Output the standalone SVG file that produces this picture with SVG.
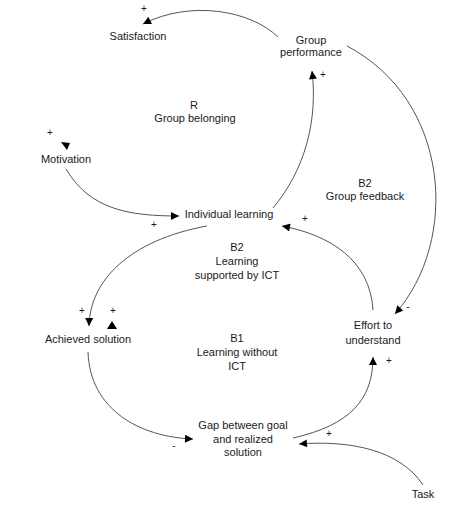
<svg xmlns="http://www.w3.org/2000/svg" width="474" height="505" viewBox="0 0 474 505">
<style>
text{font-family:"Liberation Sans",Arial,sans-serif;font-size:11px;fill:#1a1a1a;text-anchor:middle}
#polarity text{font-size:10px}
.c{fill:none;stroke:#555;stroke-width:1;marker-end:url(#ah)}
.ah{fill:#000}
</style>
<defs>
<marker id="ah" viewBox="0 0 10 10" refX="10" refY="5" markerWidth="9" markerHeight="8" markerUnits="userSpaceOnUse" orient="auto"><path d="M0,0 L10,5 L0,10 z" fill="#000"/></marker>
</defs>
<rect width="474" height="505" fill="#fff"/>
<g id="connectors">
<path class="c" d="M278,37 C250,10 190,0 143,24"/>
<path class="c" d="M347,46 C450,100 460,240 395,314"/>
<path class="c" d="M273,208 C305,170 318,120 312,71"/>
<path class="c" d="M66,169 C90,210 130,216 179,216"/>
<path class="c" d="M207,226 C130,240 90,280 89,326"/>
<path class="c" d="M373,310 C370,260 330,235 282,226"/>
<path class="c" d="M88,352 C90,410 140,437 193,439"/>
<path class="c" d="M293,438 C350,425 373,400 373,357"/>
<path class="c" d="M423,485 C400,450 350,440 299,444"/>
<polygon class="ah" points="61,142 70,143 67,150"/>
<polygon class="ah" points="107,329 117,329 112,321"/>
</g>
<g id="polarity">
<text x="144" y="12">+</text>
<text x="323" y="78">+</text>
<text x="50" y="136">+</text>
<text x="154" y="228">+</text>
<text x="305" y="222">+</text>
<text x="408" y="310">-</text>
<text x="82" y="314">+</text>
<text x="113" y="314">+</text>
<text x="389" y="364">+</text>
<text x="329" y="437">+</text>
<text x="174" y="449">-</text>
</g>
<g id="satisfaction"><text x="138" y="40">Satisfaction</text></g>
<g id="group-performance"><text x="311" y="44">Group</text><text x="311" y="56">performance</text></g>
<g id="loop-r"><text x="194" y="109">R</text><text x="195" y="122">Group belonging</text></g>
<g id="motivation"><text x="66" y="163">Motivation</text></g>
<g id="loop-b2-feedback"><text x="365" y="187">B2</text><text x="365" y="200">Group feedback</text></g>
<g id="individual-learning"><text x="229" y="218">Individual learning</text></g>
<g id="loop-b2-ict"><text x="237" y="251">B2</text><text x="237" y="265">Learning</text><text x="237" y="279">supported by ICT</text></g>
<g id="achieved-solution"><text x="88" y="343">Achieved solution</text></g>
<g id="loop-b1"><text x="237" y="342">B1</text><text x="237" y="356">Learning without</text><text x="237" y="370">ICT</text></g>
<g id="effort"><text x="373" y="329">Effort to</text><text x="373" y="344">understand</text></g>
<g id="gap"><text x="243" y="429">Gap between goal</text><text x="243" y="443">and realized</text><text x="243" y="456">solution</text></g>
<g id="task"><text x="423" y="498">Task</text></g>
</svg>
